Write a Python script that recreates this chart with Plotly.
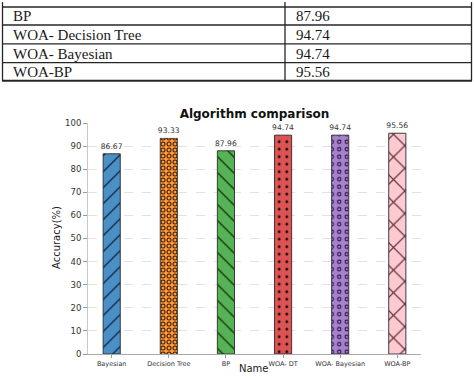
import plotly.graph_objects as go

# ---- data ----
names = ["Bayesian", "Decision Tree", "BP", "WOA- DT", "WOA- Bayesian", "WOA-BP"]
accuracy = [86.67, 93.33, 87.96, 94.74, 94.74, 95.56]

table_names = ["BP", "WOA- Decision Tree", "WOA- Bayesian", "WOA-BP"]
table_values = ["87.96", "94.74", "94.74", "95.56"]

# ---- styles ----
bar_colors = ["#4a90c6", "#ff9a3e", "#55b255", "#df5253", "#a682cc", "#ffc9d2"]
hatch_colors = ["#142a45", "#3f1c00", "#143814", "#000000", "#2a1245", "#6a3c42"]
hatch_shapes = ["/", ".", "\\", ".", ".", "x"]
hatch_sizes = [11.3, 6, 11.3, 7.5, 7.5, 16]
hatch_solid = [0.12, 0.56, 0.12, 0.1, 0.28, 0.15]
ring_inner = {1: 0.2, 4: 0.08}   # hollow centres for the circle hatches

W, H = 474, 380
L, R, T, B = 88, 421, 123, 358


def px2x(px):
    return (px - L) / (R - L)


def py2y(py):
    return (B - py) / (B - T)


fig = go.Figure()

for i, (nm, val) in enumerate(zip(names, accuracy)):
    fig.add_trace(go.Bar(
        x=[nm], y=[val], width=0.3,
        marker=dict(
            color=bar_colors[i],
            line=dict(color="#2a2a2a", width=0.9),
            pattern=dict(shape=hatch_shapes[i], fgcolor=hatch_colors[i], fgopacity=1,
                         size=hatch_sizes[i], solidity=hatch_solid[i], fillmode="overlay"),
        ),
        texttemplate="%{y:.2f}", textposition="outside", constraintext="none",
        textfont=dict(family="DejaVu Sans", size=7.6, color="#333333"),
        cliponaxis=False, showlegend=False,
    ))
    if i in ring_inner:
        fig.add_trace(go.Bar(
            x=[nm], y=[val], width=0.3,
            marker=dict(
                color="rgba(0,0,0,0)",
                line=dict(width=0),
                pattern=dict(shape=".", fgcolor=bar_colors[i], fgopacity=1,
                             size=hatch_sizes[i], solidity=ring_inner[i],
                             fillmode="overlay"),
            ),
            hoverinfo="skip", showlegend=False,
        ))

fig.update_layout(
    width=W, height=H, autosize=False,
    margin=dict(l=L, r=W - R, t=T, b=H - B, pad=0),
    paper_bgcolor="white", plot_bgcolor="white",
    barmode="overlay",
    font=dict(family="DejaVu Sans", color="#333333"),
    title=dict(text="Algorithm comparison", x=0.5, xref="paper",
               y=1 - 114 / H, yref="container", xanchor="center", yanchor="middle",
               font=dict(family="DejaVu Sans", size=12, color="#111111", weight="bold")),
    xaxis=dict(range=[-0.415, 5.415], categoryorder="array", categoryarray=names,
               showline=True, linecolor="#aaaaaa", linewidth=1,
               ticks="outside", ticklen=3, tickcolor="#999999",
               tickfont=dict(size=6.5, color="#333333"), showgrid=False, zeroline=False),
    yaxis=dict(range=[0, 100], dtick=10, showline=True, linecolor="#c8c8c8", linewidth=1,
               ticks="outside", ticklen=4, tickcolor="#999999",
               tickfont=dict(size=8.5, color="#333333"),
               showgrid=True, gridcolor="#e2e2e2", gridwidth=0.8, griddash="dash",
               zeroline=False),
)

# axis titles
fig.add_annotation(text="Name", x=px2x(254), y=py2y(373), xref="paper", yref="paper",
                   showarrow=False, xanchor="center", yanchor="middle",
                   font=dict(size=10, color="#222222"))
fig.add_annotation(text="Accuracy(%)", x=px2x(56), y=py2y(240), xref="paper", yref="paper",
                   showarrow=False, textangle=-90, xanchor="center", yanchor="middle",
                   font=dict(size=10, color="#222222"))

# ---- table drawn above the chart ----
line_col = "#262626"
h_lines = [5, 23.3, 42.5, 61.5, 80]
for i, yy in enumerate(h_lines):
    fig.add_shape(type="line", xref="paper", yref="paper",
                  x0=px2x(2), x1=px2x(472), y0=py2y(yy), y1=py2y(yy),
                  line=dict(color=line_col, width=2 if i == len(h_lines) - 1 else 1.3))
for xx in [2.5, 285, 471.5]:
    fig.add_shape(type="line", xref="paper", yref="paper",
                  x0=px2x(xx), x1=px2x(xx), y0=py2y(0), y1=py2y(80),
                  line=dict(color=line_col, width=1.3))

for i, (nm, val) in enumerate(zip(table_names, table_values)):
    yc = (h_lines[i] + h_lines[i + 1]) / 2 + 0.5
    fig.add_annotation(text=nm, x=px2x(11), y=py2y(yc), xref="paper", yref="paper",
                       showarrow=False, xanchor="left", yanchor="middle",
                       font=dict(family="Liberation Serif", size=15, color="#1a1a1a"))
    fig.add_annotation(text=val, x=px2x(294), y=py2y(yc), xref="paper", yref="paper",
                       showarrow=False, xanchor="left", yanchor="middle",
                       font=dict(family="Liberation Serif", size=15, color="#1a1a1a"))

# remove the browser's default body margin so the figure sits at the page origin
fig.write_html("out.html", config={"displayModeBar": False},
               post_script="document.body.style.margin='0';document.body.style.padding='0';")
